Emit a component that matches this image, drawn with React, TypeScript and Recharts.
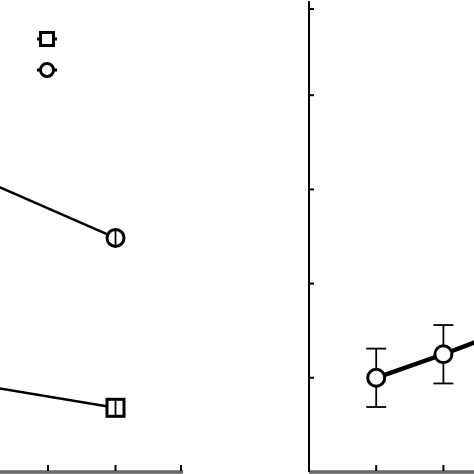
import { LineChart, Line, XAxis, YAxis, ErrorBar, Legend } from "recharts";

// left panel (only the right part is in frame)
const LEFT_X = [1, 3];
const CIRCLE_Y = [62.1, 49.6];
const SQUARE_Y = [18.4, 13.6];
const LEFT_XTICKS = [1, 2, 3, 4];

// right panel (cut off on the right)
const RIGHT_X = [1, 2, 3];
const RIGHT_Y = [1.0, 1.25, 1.52];
const RIGHT_ERR = [0.31, 0.31, 0.32];
const RIGHT_XTICKS = [1, 2, 3, 4];
const RIGHT_YTICKS = [0, 1, 2, 3, 4, 5];

const AXIS_GRAY = "#666";

const leftData = LEFT_X.map((x, i) => ({ x, c: CIRCLE_Y[i], s: SQUARE_Y[i] }));
const rightData = RIGHT_X.map((x, i) => ({ x, y: RIGHT_Y[i], err: RIGHT_ERR[i] }));

// inward tick marks (drawn at the tick position the axis hands us)
function XTickMark(props: any) {
  const { x, y } = props;
  return <line x1={x} x2={x} y1={y - 1} y2={y - 7} stroke="#000" strokeWidth={2} />;
}
function YTickMark(props: any) {
  const { x, y } = props;
  return <line x1={x} x2={x + 5} y1={y} y2={y} stroke="#000" strokeWidth={2} />;
}

function CircleDot(props: any) {
  const { cx, cy } = props;
  if (cx == null || cy == null) return null;
  return (
    <g key={`c-${cx}-${cy}`}>
      <circle cx={cx} cy={cy} r={8.5} fill="#fff" stroke="#000" strokeWidth={3} />
      <line x1={cx} x2={cx} y1={cy - 8} y2={cy + 8} stroke="#000" strokeWidth={1.8} />
    </g>
  );
}

function SquareDot(props: any) {
  const { cx, cy } = props;
  if (cx == null || cy == null) return null;
  return (
    <g key={`s-${cx}-${cy}`}>
      <rect x={cx - 8.5} y={cy - 8.5} width={17} height={17} fill="#fff" stroke="#000" strokeWidth={3} />
      <line x1={cx} x2={cx} y1={cy - 8} y2={cy + 8} stroke="#000" strokeWidth={1.8} />
    </g>
  );
}

// legend: marker only, with a short line stub on each side
function LegendIcons() {
  return (
    <svg width={24} height={58} style={{ display: "block" }}>
      <line x1={2} x2={22} y1={12} y2={12} stroke="#000" strokeWidth={3} />
      <rect x={5.5} y={5.5} width={13} height={13} fill="#fff" stroke="#000" strokeWidth={3} />
      <line x1={2} x2={22} y1={43} y2={43} stroke="#000" strokeWidth={3} />
      <circle cx={12} cy={43} r={6.5} fill="#fff" stroke="#000" strokeWidth={3} />
    </svg>
  );
}

export default function App() {
  return (
    <div style={{ position: "absolute", top: 0, left: 0, width: 474, height: 474, overflow: "hidden", background: "#fff" }}>
      <div style={{ position: "absolute", top: 0, left: -87 }}>
        <LineChart width={272} height={474} data={leftData} margin={{ top: 0, right: 2, left: 0, bottom: 0 }}>
          <XAxis
            dataKey="x"
            type="number"
            domain={[0, 4]}
            ticks={LEFT_XTICKS}
            height={2}
            tickSize={0}
            tickMargin={0}
            tickLine={false}
            tick={<XTickMark />}
            axisLine={{ stroke: AXIS_GRAY, strokeWidth: 3.5 }}
          />
          <YAxis hide domain={[0, 100]} />
          <Legend
            layout="horizontal"
            verticalAlign="middle"
            align="center"
            content={() => <LegendIcons />}
            wrapperStyle={{ top: 27, left: 122, width: 24, height: 58 }}
          />
          <Line type="linear" dataKey="c" stroke="#000" strokeWidth={2.5} dot={<CircleDot />} isAnimationActive={false} />
          <Line type="linear" dataKey="s" stroke="#000" strokeWidth={2.5} dot={<SquareDot />} isAnimationActive={false} />
        </LineChart>
      </div>
      <div style={{ position: "absolute", top: 0, left: 249 }}>
        <LineChart width={396} height={474} data={rightData} margin={{ top: 1, right: 0, left: 0, bottom: 0 }}>
          <XAxis
            dataKey="x"
            type="number"
            domain={[0, 5]}
            ticks={RIGHT_XTICKS}
            height={2}
            tickSize={0}
            tickMargin={0}
            tickLine={false}
            tick={<XTickMark />}
            axisLine={{ stroke: AXIS_GRAY, strokeWidth: 3.5 }}
          />
          <YAxis
            width={60}
            domain={[0, 5]}
            ticks={RIGHT_YTICKS}
            tickSize={0}
            tickMargin={0}
            tickLine={false}
            tick={<YTickMark />}
            axisLine={{ stroke: "#000", strokeWidth: 2 }}
          />
          <Line
            type="linear"
            dataKey="y"
            stroke="#000"
            strokeWidth={4.5}
            dot={{ r: 8.5, fill: "#fff", stroke: "#000", strokeWidth: 3 }}
            isAnimationActive={false}
          >
            <ErrorBar dataKey="err" width={10} stroke="#000" strokeWidth={1.8} />
          </Line>
        </LineChart>
      </div>
    </div>
  );
}
